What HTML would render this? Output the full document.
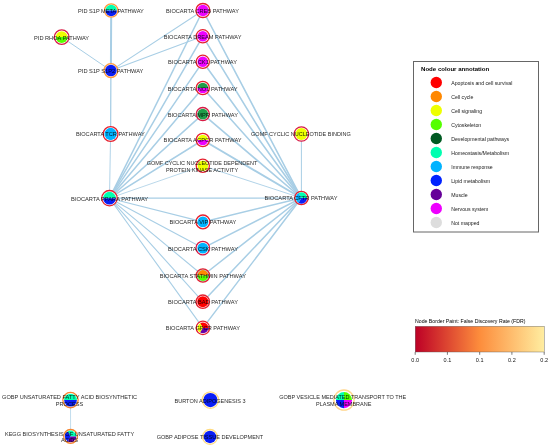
<!DOCTYPE html><html><head><meta charset="utf-8"><style>html,body{margin:0;padding:0;background:#fff}svg{display:block}</style></head><body><svg width="550" height="447" viewBox="0 0 550 447">
<rect width="550" height="447" fill="#fff"/>
<g stroke="#a8cee5" fill="none" stroke-linecap="round">
<line x1="109.5" y1="198.2" x2="202.9" y2="10.5" stroke-width="1.5"/>
<line x1="301.4" y1="198" x2="202.9" y2="10.5" stroke-width="1.6"/>
<line x1="109.5" y1="198.2" x2="202.8" y2="36.3" stroke-width="1.5"/>
<line x1="301.4" y1="198" x2="202.8" y2="36.3" stroke-width="1.6"/>
<line x1="109.5" y1="198.2" x2="202.8" y2="61.8" stroke-width="1.5"/>
<line x1="301.4" y1="198" x2="202.8" y2="61.8" stroke-width="1.6"/>
<line x1="109.5" y1="198.2" x2="202.8" y2="88.0" stroke-width="1.5"/>
<line x1="301.4" y1="198" x2="202.8" y2="88.0" stroke-width="1.6"/>
<line x1="109.5" y1="198.2" x2="202.8" y2="114.1" stroke-width="1.5"/>
<line x1="301.4" y1="198" x2="202.8" y2="114.1" stroke-width="1.6"/>
<line x1="109.5" y1="198.2" x2="202.8" y2="140" stroke-width="1.5"/>
<line x1="301.4" y1="198" x2="202.8" y2="140" stroke-width="2.0"/>
<line x1="109.5" y1="198.2" x2="202.8" y2="165.8" stroke-width="0.8"/>
<line x1="301.4" y1="198" x2="202.8" y2="165.8" stroke-width="0.9"/>
<line x1="109.5" y1="198.2" x2="202.9" y2="221.9" stroke-width="1.1"/>
<line x1="301.4" y1="198" x2="202.9" y2="221.9" stroke-width="1.5"/>
<line x1="109.5" y1="198.2" x2="202.8" y2="248.1" stroke-width="1.1"/>
<line x1="301.4" y1="198" x2="202.8" y2="248.1" stroke-width="1.5"/>
<line x1="109.5" y1="198.2" x2="202.9" y2="275.5" stroke-width="1.1"/>
<line x1="301.4" y1="198" x2="202.9" y2="275.5" stroke-width="1.5"/>
<line x1="109.5" y1="198.2" x2="202.8" y2="301.7" stroke-width="1.1"/>
<line x1="301.4" y1="198" x2="202.8" y2="301.7" stroke-width="1.5"/>
<line x1="109.5" y1="198.2" x2="202.9" y2="327.9" stroke-width="1.1"/>
<line x1="301.4" y1="198" x2="202.9" y2="327.9" stroke-width="1.5"/>
<line x1="109.5" y1="198.2" x2="301.4" y2="198" stroke-width="1.2"/>
<line x1="109.5" y1="198.2" x2="110.6" y2="134" stroke-width="0.9"/>
<line x1="110.6" y1="134" x2="110.9" y2="70.6" stroke-width="1.3"/>
<line x1="110.9" y1="70.6" x2="111.2" y2="10.5" stroke-width="2.0"/>
<line x1="61.7" y1="37.1" x2="110.9" y2="70.6" stroke-width="1.0"/>
<line x1="110.9" y1="70.6" x2="202.9" y2="10.5" stroke-width="1.1"/>
<line x1="110.9" y1="70.6" x2="202.8" y2="36.3" stroke-width="1.1"/>
<line x1="301.4" y1="198" x2="301.4" y2="134" stroke-width="1.0"/>
<line x1="70.5" y1="400.1" x2="70.6" y2="436.4" stroke-width="0.7"/>
</g>
<circle cx="111.2" cy="10.5" r="6.70" fill="#fff" stroke="#ff9a3c" stroke-width="1.3"/>
<path d="M111.2 10.5L116.95 10.50A5.75 5.75 0 0 0 105.45 10.50Z" fill="#00ffb0"/><path d="M111.2 10.5L105.45 10.50A5.75 5.75 0 0 0 116.95 10.50Z" fill="#0a1ef5"/>
<circle cx="61.7" cy="37.1" r="7.30" fill="#fff" stroke="#d81b45" stroke-width="1.3"/>
<path d="M61.7 37.1L67.65 37.10A5.95 5.95 0 0 0 55.75 37.10Z" fill="#eeff00"/><path d="M61.7 37.1L55.75 37.10A5.95 5.95 0 0 0 67.65 37.10Z" fill="#55ff00"/>
<circle cx="110.9" cy="70.6" r="6.90" fill="#fff" stroke="#ff9a3c" stroke-width="1.3"/>
<circle cx="110.9" cy="70.6" r="5.75" fill="#0a1ef5"/>
<circle cx="110.6" cy="134" r="7.40" fill="#fff" stroke="#e5202e" stroke-width="1.3"/>
<circle cx="110.6" cy="134" r="6.15" fill="#00b3ff"/>
<circle cx="109.5" cy="198.2" r="7.70" fill="#fff" stroke="#e5202e" stroke-width="1.3"/>
<path d="M109.5 198.2L115.85 198.20A6.3500000000000005 6.3500000000000005 0 0 0 103.15 198.20Z" fill="#00ffb0"/><path d="M109.5 198.2L103.15 198.20A6.3500000000000005 6.3500000000000005 0 0 0 115.85 198.20Z" fill="#0a1ef5"/>
<circle cx="202.9" cy="10.5" r="7.00" fill="#fff" stroke="#e5202e" stroke-width="1.3"/>
<circle cx="202.9" cy="10.5" r="5.75" fill="#ee00ff"/>
<circle cx="202.8" cy="36.3" r="6.60" fill="#fff" stroke="#e5202e" stroke-width="1.3"/>
<circle cx="202.8" cy="36.3" r="5.25" fill="#ee00ff"/>
<circle cx="202.8" cy="61.8" r="6.60" fill="#fff" stroke="#e5202e" stroke-width="1.3"/>
<circle cx="202.8" cy="61.8" r="5.25" fill="#ee00ff"/>
<circle cx="202.8" cy="88.0" r="6.60" fill="#fff" stroke="#e5202e" stroke-width="1.3"/>
<path d="M202.8 88.0L208.15 88.00A5.3500000000000005 5.3500000000000005 0 0 0 197.45 88.00Z" fill="#1f9e4a"/><path d="M202.8 88.0L197.45 88.00A5.3500000000000005 5.3500000000000005 0 0 0 208.15 88.00Z" fill="#ee00ff"/>
<circle cx="202.8" cy="114.1" r="6.60" fill="#fff" stroke="#d81b45" stroke-width="1.3"/>
<circle cx="202.8" cy="114.1" r="5.3500000000000005" fill="#1f9e4a"/>
<circle cx="202.8" cy="140" r="6.60" fill="#fff" stroke="#e5202e" stroke-width="1.3"/>
<path d="M202.8 140L208.05 140.00A5.25 5.25 0 0 0 197.55 140.00Z" fill="#eeff00"/><path d="M202.8 140L197.55 140.00A5.25 5.25 0 0 0 208.05 140.00Z" fill="#ee00ff"/>
<circle cx="202.8" cy="165.8" r="6.60" fill="#fff" stroke="#e5202e" stroke-width="1.3"/>
<circle cx="202.8" cy="165.8" r="5.25" fill="#eeff00"/>
<circle cx="202.9" cy="221.9" r="6.90" fill="#fff" stroke="#e5202e" stroke-width="1.3"/>
<circle cx="202.9" cy="221.9" r="5.45" fill="#00b3ff"/>
<circle cx="202.8" cy="248.1" r="6.80" fill="#fff" stroke="#d81b45" stroke-width="1.3"/>
<circle cx="202.8" cy="248.1" r="5.45" fill="#00b3ff"/>
<circle cx="202.9" cy="275.5" r="6.70" fill="#a9dcea" stroke="#e5202e" stroke-width="1.3"/>
<path d="M202.9 275.5L208.35 275.50A5.45 5.45 0 0 0 197.45 275.50Z" fill="#ff8800"/><path d="M202.9 275.5L197.45 275.50A5.45 5.45 0 0 0 208.35 275.50Z" fill="#55ff00"/>
<circle cx="202.8" cy="301.7" r="6.70" fill="#fff" stroke="#e5202e" stroke-width="1.3"/>
<circle cx="202.8" cy="301.7" r="5.550000000000001" fill="#ff0000"/>
<circle cx="202.9" cy="327.9" r="6.70" fill="#fff" stroke="#e5202e" stroke-width="1.3"/>
<path d="M202.9 327.9L208.35 327.90A5.45 5.45 0 0 0 200.18 323.18Z" fill="#ff0000"/><path d="M202.9 327.9L200.18 323.18A5.45 5.45 0 0 0 200.18 332.62Z" fill="#eeff00"/><path d="M202.9 327.9L200.18 332.62A5.45 5.45 0 0 0 208.35 327.90Z" fill="#6600aa"/>
<circle cx="301.4" cy="134" r="7.20" fill="#fff" stroke="#d81b45" stroke-width="1.3"/>
<circle cx="301.4" cy="134" r="5.95" fill="#eeff00"/>
<circle cx="301.4" cy="198" r="6.70" fill="#fff" stroke="#e5202e" stroke-width="1.3"/>
<path d="M301.4 198L307.05 198.00A5.65 5.65 0 0 0 298.57 193.11Z" fill="#00ffb0"/><path d="M301.4 198L298.57 193.11A5.65 5.65 0 0 0 298.57 202.89Z" fill="#00b3ff"/><path d="M301.4 198L298.57 202.89A5.65 5.65 0 0 0 307.05 198.00Z" fill="#0a1ef5"/>
<circle cx="70.5" cy="400.1" r="7.65" fill="#fff" stroke="#f58530" stroke-width="1.3"/>
<path d="M70.5 400.1L76.90 400.10A6.4 6.4 0 0 0 64.10 400.10Z" fill="#00ffb0"/><path d="M70.5 400.1L64.10 400.10A6.4 6.4 0 0 0 76.90 400.10Z" fill="#0a1ef5"/>
<circle cx="70.6" cy="436.4" r="6.90" fill="#fff" stroke="#f58530" stroke-width="1.3"/>
<path d="M70.6 436.4L76.35 436.40A5.75 5.75 0 0 0 67.72 431.42Z" fill="#00ffb0"/><path d="M70.6 436.4L67.72 431.42A5.75 5.75 0 0 0 67.72 441.38Z" fill="#0a1ef5"/><path d="M70.6 436.4L67.72 441.38A5.75 5.75 0 0 0 76.35 436.40Z" fill="#6600aa"/>
<circle cx="210.4" cy="400.1" r="8.20" fill="#fff" stroke="#ffdb80" stroke-width="1.3"/>
<circle cx="210.4" cy="400.1" r="7.050000000000001" fill="#0a1ef5"/>
<circle cx="210.0" cy="436.9" r="7.40" fill="#fff" stroke="#ffdb80" stroke-width="1.3"/>
<circle cx="210.0" cy="436.9" r="6.25" fill="#0a1ef5"/>
<circle cx="344" cy="400.1" r="10.10" fill="#fff" stroke="#ffd58a" stroke-width="1.3"/>
<path d="M344 400.1L352.05 400.10A8.05 8.05 0 0 0 344.00 392.05Z" fill="#55ff00"/><path d="M344 400.1L344.00 392.05A8.05 8.05 0 0 0 335.95 400.10Z" fill="#00ffb0"/><path d="M344 400.1L335.95 400.10A8.05 8.05 0 0 0 344.00 408.15Z" fill="#0a1ef5"/><path d="M344 400.1L344.00 408.15A8.05 8.05 0 0 0 352.05 400.10Z" fill="#ee00ff"/>
<g font-family="Liberation Sans, Arial, sans-serif" fill="#000" fill-opacity="0.86" text-anchor="middle">
<text x="110.95" y="12.9" font-size="5.62">PID S1P META PATHWAY</text>
<text x="61.60" y="39.6" font-size="5.66">PID RHOA PATHWAY</text>
<text x="110.70" y="73.0" font-size="5.68">PID S1P S1P2 PATHWAY</text>
<text x="110.35" y="136.4" font-size="5.64">BIOCARTA TCR PATHWAY</text>
<text x="109.60" y="200.6" font-size="5.72">BIOCARTA PPARA PATHWAY</text>
<text x="202.50" y="12.9" font-size="5.62">BIOCARTA CREB PATHWAY</text>
<text x="202.60" y="38.8" font-size="5.64">BIOCARTA DREAM PATHWAY</text>
<text x="202.50" y="64.2" font-size="5.68">BIOCARTA CK1 PATHWAY</text>
<text x="202.70" y="90.5" font-size="5.69">BIOCARTA NO1 PATHWAY</text>
<text x="202.80" y="116.5" font-size="5.66">BIOCARTA MPR PATHWAY</text>
<text x="202.60" y="142.4" font-size="5.69">BIOCARTA AGPCR PATHWAY</text>
<text x="202.00" y="165.3" font-size="5.50">GOMF CYCLIC NUCLEOTIDE DEPENDENT</text>
<text x="202.00" y="172.2" font-size="5.50">PROTEIN KINASE ACTIVITY</text>
<text x="202.90" y="224.3" font-size="5.67">BIOCARTA VIP PATHWAY</text>
<text x="203.00" y="250.5" font-size="5.71">BIOCARTA CSK PATHWAY</text>
<text x="202.80" y="277.9" font-size="5.69">BIOCARTA STATHMIN PATHWAY</text>
<text x="203.00" y="304.1" font-size="5.71">BIOCARTA BAD PATHWAY</text>
<text x="202.80" y="330.3" font-size="5.68">BIOCARTA GPCR PATHWAY</text>
<text x="300.90" y="136.4" font-size="5.51">GOMF CYCLIC NUCLEOTIDE BINDING</text>
<text x="301.00" y="200.4" font-size="5.68">BIOCARTA CFTR PATHWAY</text>
<text x="69.55" y="399.3" font-size="5.61">GOBP UNSATURATED FATTY ACID BIOSYNTHETIC</text>
<text x="69.55" y="405.8" font-size="5.61">PROCESS</text>
<text x="69.55" y="435.6" font-size="5.58">KEGG BIOSYNTHESIS OF UNSATURATED FATTY</text>
<text x="69.55" y="442.1" font-size="5.58">ACIDS</text>
<text x="210.00" y="402.6" font-size="5.56">BURTON ADIPOGENESIS 3</text>
<text x="210.00" y="439.3" font-size="5.54">GOBP ADIPOSE TISSUE DEVELOPMENT</text>
<text x="342.70" y="399.1" font-size="5.53">GOBP VESICLE MEDIATED TRANSPORT TO THE</text>
<text x="343.70" y="406.0" font-size="5.53">PLASMA MEMBRANE</text>
</g>
<rect x="413.5" y="61.5" width="125" height="170.5" fill="#fff" stroke="#666" stroke-width="1"/>
<text x="421" y="71.3" font-family="Liberation Sans, Arial, sans-serif" font-weight="bold" font-size="6.08" fill="#000">Node colour annotation</text>
<g font-family="Liberation Sans, Arial, sans-serif" font-size="5.2" fill="#222">
<circle cx="436.3" cy="82.5" r="5.7" fill="#ff0000"/>
<text x="451.2" y="84.9">Apoptosis and cell survival</text>
<circle cx="436.3" cy="96.5" r="5.7" fill="#ff8800"/>
<text x="451.2" y="98.9">Cell cycle</text>
<circle cx="436.3" cy="110.5" r="5.7" fill="#eeff00"/>
<text x="451.2" y="112.9">Cell signaling</text>
<circle cx="436.3" cy="124.5" r="5.7" fill="#55ff00"/>
<text x="451.2" y="126.9">Cytoskeleton</text>
<circle cx="436.3" cy="138.5" r="5.7" fill="#005a22"/>
<text x="451.2" y="140.9">Developmental pathways</text>
<circle cx="436.3" cy="152.5" r="5.7" fill="#00ffb0"/>
<text x="451.2" y="154.9">Homeostasis/Metabolism</text>
<circle cx="436.3" cy="166.5" r="5.7" fill="#00b3ff"/>
<text x="451.2" y="168.9">Immune response</text>
<circle cx="436.3" cy="180.5" r="5.7" fill="#0022ff"/>
<text x="451.2" y="182.9">Lipid metabolism</text>
<circle cx="436.3" cy="194.5" r="5.7" fill="#660099"/>
<text x="451.2" y="196.9">Muscle</text>
<circle cx="436.3" cy="208.5" r="5.7" fill="#ee00ff"/>
<text x="451.2" y="210.9">Nervous system</text>
<circle cx="436.3" cy="222.5" r="5.7" fill="#dddddd"/>
<text x="451.2" y="224.9">Not mapped</text>
</g>
<defs><linearGradient id="g" x1="0" x2="1" y1="0" y2="0"><stop offset="0" stop-color="#bd0026"/><stop offset="0.5" stop-color="#fd8d3c"/><stop offset="1" stop-color="#ffeda0"/></linearGradient></defs>
<rect x="415.2" y="326.3" width="129" height="25.7" fill="url(#g)" stroke="#555" stroke-width="0.4"/>
<text x="415" y="322.6" font-family="Liberation Sans, Arial, sans-serif" font-size="5.2" fill="#000">Node Border Paint: False Discovery Rate (FDR)</text>
<g font-family="Liberation Sans, Arial, sans-serif" font-size="5.5" fill="#111" text-anchor="middle" stroke="none">
<line x1="415.2" y1="352" x2="415.2" y2="354.8" stroke="#222" stroke-width="0.6"/>
<text x="415.2" y="361.8">0.0</text>
<line x1="447.4" y1="352" x2="447.4" y2="354.8" stroke="#222" stroke-width="0.6"/>
<text x="447.4" y="361.8">0.1</text>
<line x1="479.7" y1="352" x2="479.7" y2="354.8" stroke="#222" stroke-width="0.6"/>
<text x="479.7" y="361.8">0.1</text>
<line x1="511.9" y1="352" x2="511.9" y2="354.8" stroke="#222" stroke-width="0.6"/>
<text x="511.9" y="361.8">0.2</text>
<line x1="544.2" y1="352" x2="544.2" y2="354.8" stroke="#222" stroke-width="0.6"/>
<text x="544.2" y="361.8">0.2</text>
</g>
</svg></body></html>
